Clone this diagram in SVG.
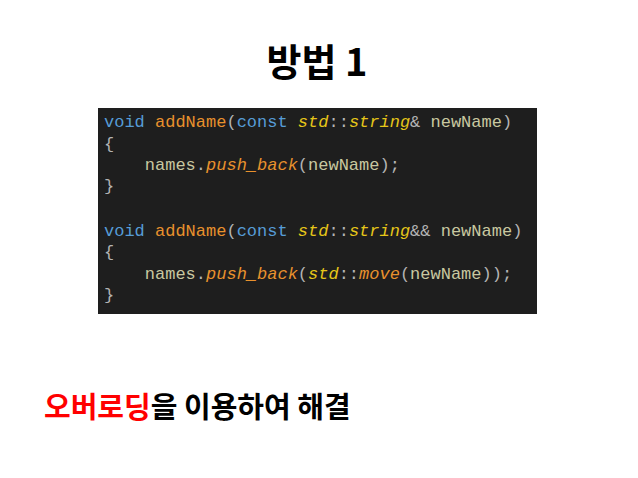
<svg xmlns="http://www.w3.org/2000/svg" width="638" height="478" viewBox="0 0 638 478">
<style>
.c{font-family:"Liberation Mono","DejaVu Sans Mono",monospace;font-size:17px;fill:#b4b4b4;white-space:pre}
.k{fill:#569cd6}.f{fill:#e8912d}.y{fill:#e6c619;font-style:italic}.v{fill:#c8c8a0}.fi{fill:#e8912d;font-style:italic}
.h{font-family:"Noto Sans CJK KR","Noto Sans",sans-serif;font-weight:bold}
</style>
<rect width="638" height="478" fill="#fff"/>
<g id="title"><text x="317" y="76" text-anchor="middle" class="h" font-size="38" fill="#000">방법 1</text></g>
<g id="code">
<rect x="98" y="108" width="439" height="206" fill="#1e1e1e"/>
<text class="c" x="104" y="127"><tspan class="k">void</tspan> <tspan class="f">addName</tspan>(<tspan class="k">const</tspan> <tspan class="y">std</tspan>::<tspan class="y">string</tspan>&amp; <tspan class="v">newName</tspan>)</text>
<text class="c" x="104" y="149">{</text>
<text class="c" x="104" y="170">    <tspan class="v">names</tspan>.<tspan class="fi">push_back</tspan>(<tspan class="v">newName</tspan>);</text>
<text class="c" x="104" y="191">}</text>
<text class="c" x="104" y="236"><tspan class="k">void</tspan> <tspan class="f">addName</tspan>(<tspan class="k">const</tspan> <tspan class="y">std</tspan>::<tspan class="y">string</tspan>&amp;&amp; <tspan class="v">newName</tspan>)</text>
<text class="c" x="104" y="257">{</text>
<text class="c" x="104" y="279">    <tspan class="v">names</tspan>.<tspan class="fi">push_back</tspan>(<tspan class="y">std</tspan>::<tspan class="fi">move</tspan>(<tspan class="v">newName</tspan>));</text>
<text class="c" x="104" y="300">}</text>
</g>
<g id="caption"><text x="44" y="418" class="h" font-size="29"><tspan fill="#ff0000">오버로딩</tspan><tspan fill="#000">을 이용하여 해결</tspan></text></g>
</svg>
